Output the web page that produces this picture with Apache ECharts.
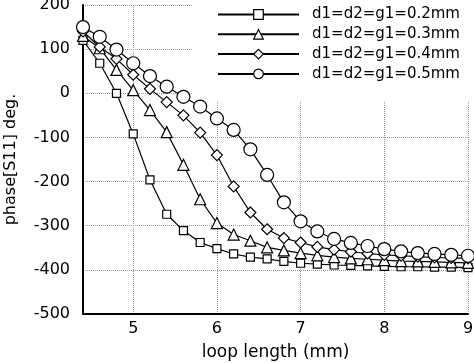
<!DOCTYPE html>
<html>
<head>
<meta charset="utf-8">
<script src="https://cdn.jsdelivr.net/npm/echarts@6/dist/echarts.min.js"></script>
<style>html,body{margin:0;padding:0;background:#fff}#c{width:474px;height:363px}</style>
</head>
<body>
<div id="c"></div>
<script>
var loopLength = [4.4, 4.6, 4.8, 5.0, 5.2, 5.4, 5.6, 5.8, 6.0, 6.2, 6.4, 6.6, 6.8, 7.0, 7.2, 7.4, 7.6, 7.8, 8.0, 8.2, 8.4, 8.6, 8.8, 9.0];
var seriesNames = ['d1=d2=g1=0.2mm', 'd1=d2=g1=0.3mm', 'd1=d2=g1=0.4mm', 'd1=d2=g1=0.5mm'];
var phase02 = [120, 68, 0, -92, -196, -274, -311, -338, -352, -364, -371, -375, -381, -385, -387, -389, -390, -391, -392, -393, -393, -394, -394, -395];
var phase03 = [130, 102, 53, 7, -38, -88, -162, -240, -294, -320, -334, -349, -356, -362, -367, -371, -374, -376, -378, -380, -381, -382, -383, -384];
var phase04 = [140, 105, 78, 42, 10, -20, -50, -89, -140, -211, -270, -308, -328, -338, -348, -354, -359, -363, -366, -368, -370, -372, -373, -374];
var phase05 = [150, 128, 99, 68, 39, 15, -8, -30, -57, -83, -127, -185, -247, -290, -313, -330, -339, -346, -353, -358, -362, -364, -366, -368];
var xTicks = [5, 6, 7, 8, 9];

var font = 'DejaVu Sans';
function pairs(ys) { return loopLength.map(function (x, i) { return [x, ys[i]]; }); }
var symbols = ['rect', 'triangle', 'diamond', 'circle'];
var sizes = [8, 11, 11, 13];
var allData = [phase02, phase03, phase04, phase05];

var chart = echarts.init(document.getElementById('c'), null, {renderer: 'canvas'});
chart.setOption({
  animation: false,
  backgroundColor: '#fff',
  grid: {left: 83, right: 6, top: 5, bottom: 49, outerBoundsMode: 'none', containLabel: false},
  legend: {
    orient: 'vertical',
    left: 193, top: 0,
    padding: [7, 20, 20, 24],
    backgroundColor: '#fff',
    itemWidth: 81, itemHeight: 12, itemGap: 4.8,
    lineStyle: {width: 2},
    itemStyle: {borderWidth: 1.2},
    data: seriesNames,
    textStyle: {fontFamily: font, fontSize: 15, color: '#000', padding: [0, 0, 0, 8]}
  },
  xAxis: {
    type: 'value', min: 4.4, max: 9,
    axisLine: {show: true, onZero: false, lineStyle: {color: '#000', width: 2}},
    axisTick: {show: false, customValues: xTicks},
    axisLabel: {customValues: xTicks, fontFamily: font, fontSize: 16, color: '#000', margin: 7},
    splitLine: {show: true, lineStyle: {color: '#999', type: 'dotted', width: 1}},
    name: 'loop length (mm)', nameLocation: 'middle', nameGap: 30,
    nameTextStyle: {fontFamily: font, fontSize: 17, color: '#000'}
  },
  yAxis: {
    type: 'value', min: -500, max: 200, interval: 100,
    axisLine: {show: true, onZero: false, lineStyle: {color: '#000', width: 2}},
    axisTick: {show: false},
    axisLabel: {fontFamily: font, fontSize: 16, color: '#000', margin: 13},
    splitLine: {show: true, lineStyle: {color: '#999', type: 'dotted', width: 1}},
    name: 'phase[S11] deg.', nameLocation: 'middle', nameGap: 64,
    nameTextStyle: {fontFamily: font, fontSize: 16, color: '#000'}
  },
  series: seriesNames.map(function (n, i) {
    return {
      name: n, type: 'line', data: pairs(allData[i]),
      symbol: symbols[i], symbolSize: sizes[i], showAllSymbol: true,
      lineStyle: {color: '#000', width: 1.2},
      itemStyle: {color: '#fff', borderColor: '#000', borderWidth: 1.2},
      z: 2 + i
    };
  })
});
</script>
</body>
</html>
